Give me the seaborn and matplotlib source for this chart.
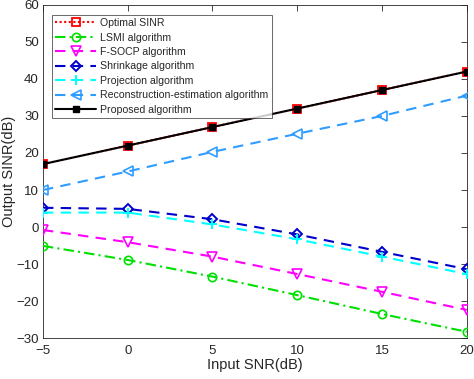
import numpy as np
import pandas as pd
import matplotlib
matplotlib.use("Agg")
import matplotlib.pyplot as plt
import seaborn as sns

snr = [-5, 0, 5, 10, 15, 20]
optimal = [17, 22, 27, 32, 37, 42]
lsmi = [-5.1, -8.9, -13.4, -18.4, -23.5, -28.3]
fsocp = [-0.8, -4.1, -8.0, -12.7, -17.5, -22.4]
shrinkage = [5.2, 4.9, 2.1, -2.0, -6.7, -11.4]
projection = [3.9, 3.9, 0.7, -3.3, -8.0, -12.7]
reconstruction = [10.0, 15.0, 20.3, 25.2, 30.0, 35.5]
proposed = [17, 22, 27, 32, 37, 42]

names = ["Optimal SINR", "LSMI algorithm", "F-SOCP algorithm", "Shrinkage algorithm",
         "Projection algorithm", "Reconstruction-estimation algorithm", "Proposed algorithm"]
series = [optimal, lsmi, fsocp, shrinkage, projection, reconstruction, proposed]

rows = []
for n, vals in zip(names, series):
    for x, y in zip(snr, vals):
        rows.append({"snr": x, "sinr": y, "alg": n})
df = pd.DataFrame(rows)

sns.set_style("white")
plt.rcParams['font.family'] = ['Liberation Sans', 'DejaVu Sans']

styles = {
    "Optimal SINR": dict(color="#ff0000", ls=(0, (1, 1.2)), marker="s", mfc="none", ms=5.5, mew=1.3, lw=1.5),
    "LSMI algorithm": dict(color="#00e000", ls=(0, (5, 2, 1, 2)), marker="o", mfc="none", ms=6, mew=1.2, lw=1.5),
    "F-SOCP algorithm": dict(color="#ff00ff", ls=(0, (5, 3.5)), marker="v", mfc="none", ms=6.5, mew=1.2, lw=1.5),
    "Shrinkage algorithm": dict(color="#0000cc", ls=(0, (5, 3.5)), marker="D", mfc="none", ms=5, mew=1.4, lw=1.5),
    "Projection algorithm": dict(color="#00ffff", ls=(0, (5, 3.5)), marker="+", mfc="none", ms=7, mew=1.4, lw=1.5),
    "Reconstruction-estimation algorithm": dict(color="#2f9cff", ls=(0, (5, 3.5)), marker="<", mfc="none", ms=7, mew=1.2, lw=1.5),
    "Proposed algorithm": dict(color="#000000", ls="-", marker="s", mfc="#000000", ms=4.5, mew=1, lw=1.5),
}

fig = plt.figure(figsize=(4.74, 3.79), dpi=100)
ax = fig.add_axes([0.0907, 0.108, 0.894, 0.879])

for n in names:
    st = styles[n]
    sub = df[df.alg == n]
    sns.lineplot(data=sub, x="snr", y="sinr", ax=ax, label=n, color=st["color"],
                 linestyle=st["ls"], marker=st["marker"], markerfacecolor=st["mfc"],
                 markeredgecolor=st["color"], markersize=st["ms"], markeredgewidth=st["mew"],
                 linewidth=st["lw"], zorder=3)

ax.set_xlim(-5, 20)
ax.set_ylim(-30, 60)
ax.set_xticks(snr)
ax.set_yticks(np.arange(-30, 61, 10))
ax.set_xlabel("Input SNR(dB)", fontsize=10.5, color="#262626", labelpad=1)
ax.set_ylabel("Output SINR(dB)", fontsize=10.5, color="#262626", labelpad=0)
ax.tick_params(direction="in", top=True, right=True, length=4, width=0.6,
               colors="#262626", labelsize=9.5)
ax.tick_params(axis="x", pad=5)
ax.tick_params(axis="y", pad=3)
for s in ax.spines.values():
    s.set_color("#262626")
    s.set_linewidth(0.6)

leg = ax.legend(loc="upper left", bbox_to_anchor=(0.022, 0.97), fontsize=7.6,
                frameon=True, fancybox=False, edgecolor="#262626", handlelength=3.8,
                handletextpad=0.45, labelspacing=0.42, borderpad=0.3, borderaxespad=0)
leg.get_frame().set_linewidth(0.6)

fig.savefig("out.png", dpi=100)
